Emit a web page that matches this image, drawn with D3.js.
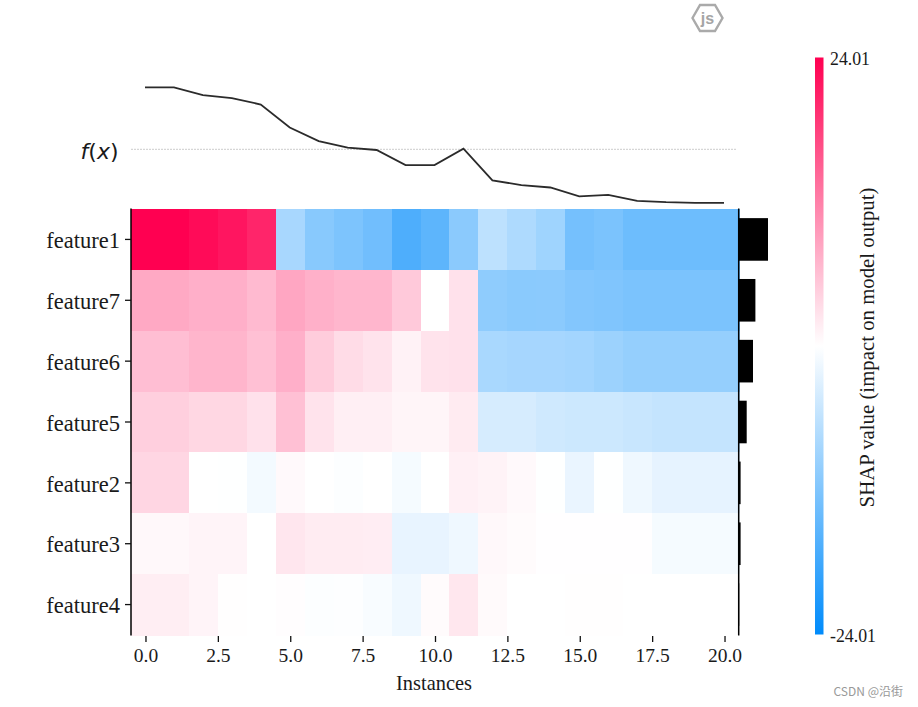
<!DOCTYPE html>
<html>
<head>
<meta charset="utf-8">
<script src="https://cdn.jsdelivr.net/npm/d3@7"></script>
<style>
    html, body { margin: 0; padding: 0; background: #fff; }
    svg { display: block; }
    text { font-family: "Liberation Serif", serif; fill: #1a1a1a; }
    .axis path { display: none; }
    .axis line { stroke: #111; stroke-width: 1.3; }
</style>
</head>
<body>
<svg id="chart" width="918" height="707"></svg>
<script>
const features = ["feature1", "feature7", "feature6", "feature5", "feature2", "feature3", "feature4"];
const instances = d3.range(21);

// SHAP values per instance
const feature1 = [24, 24, 23, 22, 20.5, -8.2, -11.2, -12.2, -13.4, -16.7, -15.3, -10.9, -6.2, -7.6, -9, -13, -12.4, -13.7, -13.7, -13.7, -13.7];
const feature7 = [8.1, 8.1, 7.5, 7.5, 6.5, 8.4, 7.4, 6.9, 6.9, 5.1, 0, 2.8, -10.5, -11, -10.9, -11.7, -12, -12.4, -12.4, -12.4, -12.4];
const feature6 = [6.1, 6.1, 7, 7, 5.9, 7.5, 4.8, 3.3, 2.6, 1.2, 2.6, 2.8, -8.1, -8.4, -8.4, -8.7, -9.3, -10, -10, -10, -10];
const feature5 = [4.5, 4.5, 3.8, 3.8, 2.8, 5.9, 2.6, 1.5, 1.5, 0.9, 0.9, 1.9, -3.9, -3.9, -4.5, -4.8, -4.8, -5.2, -5.6, -5.6, -5.6];
const feature2 = [3.9, 3.9, 0, -0.1, -1.1, 0.6, 0, -0.3, 0, -0.9, 0, 1.4, 1.1, 0.6, -0.05, -2, -0.1, -1.5, -2.4, -2.4, -2.4];
const feature3 = [0.7, 0.7, 1, 1, 0, 2.4, 1.8, 1.8, 1.7, -2.2, -2.2, -1.5, 0.7, 0.4, 0.05, 0.05, 0.05, 0.05, -0.9, -0.9, -0.9];
const feature4 = [1.6, 1.6, 1, 0.1, 0, 0.2, -0.3, -0.2, -0.7, -1.5, 0.4, 2.3, 0.5, 0, 0, 0.1, 0.1, 0, 0, 0, 0];
const shapValues = [feature1, feature7, feature6, feature5, feature2, feature3, feature4];

// model output relative to the base value
const fxValues = [52.5, 52.5, 46, 43.5, 38, 18.5, 6.9, 1.4, -0.6, -13.4, -13.4, 0.5, -26.4, -30.4, -32.4, -40, -38.7, -43.7, -44.9, -45.5, -45.5];
const baseValue = 0;

// mean |SHAP| bars on the right
const meanAbs = [14.5, 8.2, 7, 3.85, 0.8, 0.8, 0.1];

const xTicks = [0, 2.5, 5, 7.5, 10, 12.5, 15, 17.5, 20];
const colorLimit = 24.01;

const svg = d3.select("#chart");

const x = d3.scaleLinear().domain([-0.5, 20.5]).range([131, 739]);
const y = d3.scaleBand().domain(features).range([209, 635]);
const fxY = d3.scaleLinear().domain([-60, 60]).range([220, 78.6]);
const barX = d3.scaleLinear().domain([0, 15]).range([739, 769]);
const color = d3.scaleLinear()
    .domain([-colorLimit, 0, colorLimit])
    .range(["#008bfb", "#ffffff", "#ff0051"]);

// heatmap
svg.append("g")
    .attr("shape-rendering", "crispEdges")
    .selectAll("g")
    .data(features)
    .enter()
    .append("g")
    .selectAll("rect")
    .data((d, r) => instances.map(i => ({ feature: d, i: i, value: shapValues[r][i] })))
    .enter()
    .append("rect")
    .attr("x", d => x(d.i - 0.5))
    .attr("y", d => y(d.feature))
    .attr("width", d => x(d.i + 0.5) - x(d.i - 0.5) + 0.5)
    .attr("height", y.bandwidth() + 0.5)
    .attr("fill", d => color(d.value));

// output line on top
svg.append("line")
    .attr("x1", x(-0.5))
    .attr("x2", 737)
    .attr("y1", fxY(baseValue))
    .attr("y2", fxY(baseValue))
    .attr("stroke", "#aaa")
    .attr("stroke-width", 0.6)
    .attr("stroke-dasharray", "2 1");

svg.append("path")
    .datum(fxValues)
    .attr("fill", "none")
    .attr("stroke", "#2b2b2b")
    .attr("stroke-width", 1.8)
    .attr("d", d3.line().x((d, i) => x(i) - 0.5).y(d => fxY(d)));

const fxLabel = svg.append("text")
    .attr("x", 118.5)
    .attr("y", 158.5)
    .attr("text-anchor", "end")
    .style("font-family", "'DejaVu Sans'")
    .style("font-size", "22px");
fxLabel.append("tspan").style("font-style", "italic").text("f");
fxLabel.append("tspan").text("(");
fxLabel.append("tspan").style("font-style", "italic").text("x");
fxLabel.append("tspan").text(")");

// mean importance bars
svg.append("g")
    .selectAll("rect")
    .data(features)
    .enter()
    .append("rect")
    .attr("x", barX(0))
    .attr("y", d => y(d) + y.bandwidth() * 0.15)
    .attr("width", (d, i) => barX(meanAbs[i]) - barX(0))
    .attr("height", y.bandwidth() * 0.7)
    .attr("fill", "#000");

// spines
[x(-0.5), x(20.5) - 0.3].forEach(px => {
    svg.append("line")
        .attr("x1", px)
        .attr("x2", px)
        .attr("y1", 208.5)
        .attr("y2", 635.5)
        .attr("stroke", "#000")
        .attr("stroke-width", 1.5);
});

// axes
const yAxis = svg.append("g")
    .attr("class", "axis")
    .attr("transform", "translate(131,0)")
    .call(d3.axisLeft(y).tickSize(6).tickPadding(5));
yAxis.selectAll("text")
    .attr("y", 1.5)
    .style("font-size", "22.5px");

const xAxis = svg.append("g")
    .attr("class", "axis")
    .attr("transform", "translate(0,636)")
    .call(d3.axisBottom(x).tickValues(xTicks).tickFormat(d3.format(".1f")).tickSize(6).tickPadding(6.5));
xAxis.selectAll("text").style("font-size", "19.5px");

svg.append("text")
    .attr("x", x(10) - 1)
    .attr("y", 690)
    .attr("text-anchor", "middle")
    .style("font-size", "20.4px")
    .text("Instances");

// colour bar
const gradient = svg.append("defs")
    .append("linearGradient")
    .attr("id", "shap-gradient")
    .attr("x1", 0)
    .attr("x2", 0)
    .attr("y1", 1)
    .attr("y2", 0);
gradient.selectAll("stop")
    .data(d3.range(-colorLimit, colorLimit + 0.01, colorLimit))
    .enter()
    .append("stop")
    .attr("offset", (d, i) => i / 2)
    .attr("stop-color", d => color(d));

const barY = d3.scaleLinear().domain([-colorLimit, colorLimit]).range([634.5, 57.5]);
svg.append("rect")
    .attr("x", 815)
    .attr("y", barY(colorLimit))
    .attr("width", 8.5)
    .attr("height", barY(-colorLimit) - barY(colorLimit))
    .attr("fill", "url(#shap-gradient)");

svg.append("text")
    .attr("x", 830)
    .attr("y", barY(colorLimit) + 7)
    .style("font-size", "17.8px")
    .text(colorLimit.toFixed(2));

svg.append("text")
    .attr("x", 830)
    .attr("y", barY(-colorLimit) + 7.5)
    .style("font-size", "17.8px")
    .text("-" + colorLimit.toFixed(2));

svg.append("text")
    .attr("transform", "translate(874,347.5) rotate(-90)")
    .attr("text-anchor", "middle")
    .style("font-size", "20.8px")
    .text("SHAP value (impact on model output)");

// js badge
const badge = svg.append("g").attr("transform", "translate(707.5,18)");
badge.append("path")
    .attr("d", d3.line()([[-15, 0], [-7.5, -13], [7.5, -13], [15, 0], [7.5, 13], [-7.5, 13]]) + "Z")
    .attr("fill", "none")
    .attr("stroke", "#aaa")
    .attr("stroke-width", 2.4);
badge.append("text")
    .attr("y", 6)
    .attr("text-anchor", "middle")
    .style("font-family", "'Liberation Sans'")
    .style("font-weight", "bold")
    .style("font-size", "16px")
    .style("fill", "#a5a5a5")
    .text("js");

// watermark
svg.append("text")
    .attr("x", 903)
    .attr("y", 696)
    .attr("text-anchor", "end")
    .style("font-family", "'Noto Sans CJK SC'")
    .style("font-size", "12px")
    .style("fill", "#999")
    .text("CSDN @沿街");
</script>
</body>
</html>
